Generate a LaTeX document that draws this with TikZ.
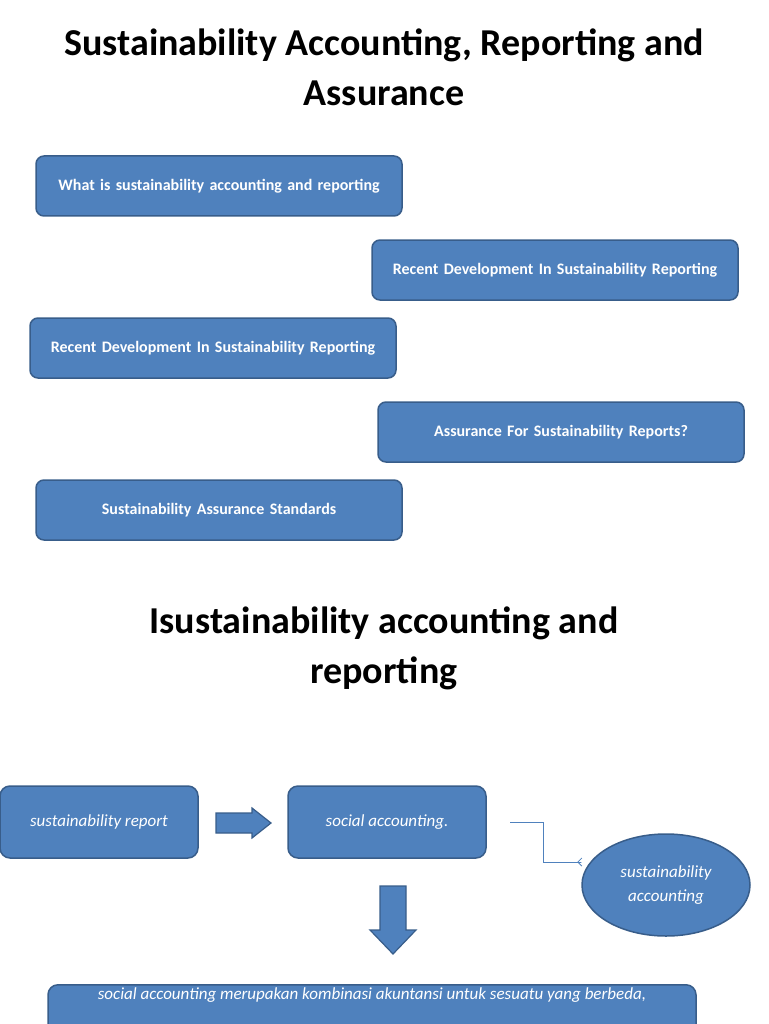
\documentclass[tikz,border=0pt]{standalone}
\usepackage{fontspec}
\setmainfont{Carlito}
\usetikzlibrary{shapes.geometric,shapes.arrows,arrows.meta}
\definecolor{boxfill}{HTML}{4F81BD}
\definecolor{boxline}{HTML}{385D8A}
\tikzset{
  topbox/.style={draw=boxline,line width=1.5pt,fill=boxfill,rounded corners=8pt,minimum width=366pt,minimum height=60pt,text width=330pt,align=center,text=white,font=\fontsize{16}{22}\selectfont\bfseries},
  lowbox/.style={draw=boxline,line width=1.5pt,fill=boxfill,rounded corners=10pt,minimum width=198pt,minimum height=72pt,align=center,text=white,font=\fontsize{17}{24}\selectfont\itshape},
  ttl/.style={align=center,font=\fontsize{38}{50}\selectfont\bfseries},
  fat/.style={draw=boxline,line width=1.2pt,fill=boxfill}
}
\begin{document}
\begin{tikzpicture}[x=1pt,y=-1pt]
\useasboundingbox (0,0) rectangle (768,1024);
\node[ttl] (t1) at (384,67) {Sustainability Accounting, Reporting and\\Assurance};
\node[topbox] (b1) at (219,186) {What is sustainability accounting and reporting};
\node[topbox] (b2) at (555,270) {Recent Development In Sustainability Reporting};
\node[topbox] (b3) at (213,348) {Recent Development In Sustainability Reporting};
\node[topbox] (b4) at (561,432) {Assurance For Sustainability Reports?};
\node[topbox] (b5) at (219,510) {Sustainability Assurance Standards};
\node[ttl] (t2) at (384,648) {Isustainability accounting and\\reporting};
\node[lowbox] (sr) at (99,822) {sustainability report};
\node[lowbox] (sa) at (387,822) {social accounting.};
\node[ellipse,draw=boxline,line width=1.5pt,fill=boxfill,minimum width=168pt,minimum height=102pt,align=center,text=white,font=\fontsize{17}{24}\selectfont\itshape] (el) at (666,885) {sustainability\\accounting};
\node[lowbox,anchor=north,minimum width=648pt,minimum height=60pt] (bt) at (372,984) {social accounting merupakan kombinasi akuntansi untuk sesuatu yang berbeda,\\[40pt]};
\draw[fat] (216,813) -- (252,813) -- (252,808) -- (271,823) -- (252,838) -- (252,833) -- (216,833) -- cycle;
\draw[fat] (380,886) -- (406,886) -- (406,930) -- (416,930) -- (393,954) -- (370,930) -- (380,930) -- cycle;
\coordinate (c1) at (510,822);
\draw[boxfill,line width=0.8pt,-{Straight Barb[length=4pt]}] (c1) -- (543,822) -- (543,862) -- (el.west|-0,862) -- ++(-4,0);
\end{tikzpicture}
\end{document}
